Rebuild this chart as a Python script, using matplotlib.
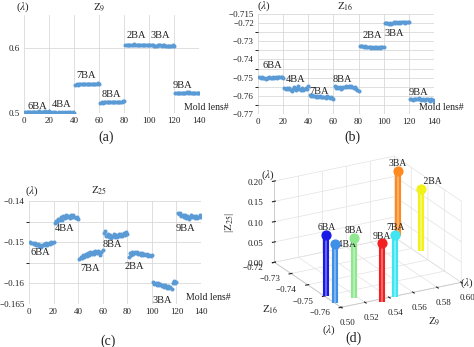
import matplotlib
matplotlib.use("Agg")
import matplotlib.pyplot as plt
import numpy as np
from matplotlib.ticker import FixedLocator, FuncFormatter

plt.rcParams["font.family"] = ["Liberation Serif", "DejaVu Serif"]
plt.rcParams["mathtext.fontset"] = "stix"
plt.rcParams["axes.unicode_minus"] = True

W, H = 474, 347

groups = ["6BA", "4BA", "7BA", "8BA", "2BA", "3BA", "9BA"]

# Z9 per mold lens, 20 lenses per group
z9 = {
    "6BA": [0.5015, 0.5020, 0.5012, 0.5018, 0.5010, 0.5016, 0.5022, 0.5014, 0.5019, 0.5011,
            0.5017, 0.5023, 0.5015, 0.5020, 0.5013, 0.5018, 0.5024, 0.5016, 0.5021, 0.5027],
    "4BA": [0.5012, 0.5006, 0.5010, 0.5003, 0.5008, 0.5001, 0.5006, 0.5011, 0.5004, 0.5009,
            0.5002, 0.5007, 0.5012, 0.5005, 0.5010, 0.5003, 0.5008, 0.5004, 0.5009, 0.5002],
    "7BA": [0.5432, 0.5438, 0.5435, 0.5441, 0.5437, 0.5443, 0.5440, 0.5446, 0.5442, 0.5448,
            0.5444, 0.5450, 0.5446, 0.5442, 0.5448, 0.5444, 0.5450, 0.5447, 0.5452, 0.5448],
    "8BA": [0.5158, 0.5162, 0.5160, 0.5165, 0.5161, 0.5167, 0.5163, 0.5169, 0.5165, 0.5170,
            0.5166, 0.5172, 0.5168, 0.5164, 0.5170, 0.5166, 0.5172, 0.5175, 0.5180, 0.5184],
    "2BA": [0.6035, 0.6040, 0.6038, 0.6044, 0.6041, 0.6047, 0.6043, 0.6049, 0.6045, 0.6041,
            0.6046, 0.6042, 0.6044, 0.6039, 0.6043, 0.6038, 0.6041, 0.6036, 0.6040, 0.6035],
    "3BA": [0.6038, 0.6034, 0.6040, 0.6030, 0.6025, 0.6032, 0.6036, 0.6042, 0.6038, 0.6033,
            0.6039, 0.6035, 0.6030, 0.6026, 0.6031, 0.6027, 0.6033, 0.6029, 0.6034, 0.6030],
    "9BA": [0.5305, 0.5309, 0.5306, 0.5311, 0.5308, 0.5312, 0.5309, 0.5313, 0.5310, 0.5314,
            0.5311, 0.5315, 0.5312, 0.5309, 0.5313, 0.5308, 0.5311, 0.5306, 0.5304, 0.5300],
}

# Z16 per mold lens
z16 = {
    "6BA": [-0.7498, -0.7502, -0.7499, -0.7504, -0.7500, -0.7505, -0.7501, -0.7503, -0.7499, -0.7504,
            -0.7500, -0.7497, -0.7501, -0.7498, -0.7502, -0.7496, -0.7499, -0.7495, -0.7498, -0.7502],
    "4BA": [-0.7558, -0.7562, -0.7556, -0.7565, -0.7559, -0.7568, -0.7575, -0.7560, -0.7552, -0.7566,
            -0.7558, -0.7548, -0.7563, -0.7570, -0.7557, -0.7566, -0.7561, -0.7555, -0.7562, -0.7547],
    "7BA": [-0.7596, -0.7600, -0.7598, -0.7603, -0.7599, -0.7605, -0.7601, -0.7606, -0.7602, -0.7608,
            -0.7604, -0.7609, -0.7605, -0.7610, -0.7603, -0.7607, -0.7612, -0.7605, -0.7610, -0.7615],
    "8BA": [-0.7548, -0.7556, -0.7552, -0.7558, -0.7553, -0.7560, -0.7555, -0.7550, -0.7554, -0.7548,
            -0.7552, -0.7546, -0.7551, -0.7545, -0.7550, -0.7555, -0.7549, -0.7560, -0.7567, -0.7572],
    "2BA": [-0.7325, -0.7328, -0.7326, -0.7330, -0.7327, -0.7331, -0.7329, -0.7334, -0.7330, -0.7336,
            -0.7333, -0.7338, -0.7334, -0.7332, -0.7336, -0.7333, -0.7337, -0.7334, -0.7331, -0.7329],
    "3BA": [-0.7198, -0.7201, -0.7197, -0.7203, -0.7199, -0.7205, -0.7200, -0.7196, -0.7199, -0.7195,
            -0.7198, -0.7194, -0.7197, -0.7193, -0.7196, -0.7194, -0.7197, -0.7193, -0.7196, -0.7194],
    "9BA": [-0.7620, -0.7616, -0.7622, -0.7618, -0.7615, -0.7620, -0.7617, -0.7613, -0.7618, -0.7622,
            -0.7617, -0.7621, -0.7625, -0.7619, -0.7616, -0.7622, -0.7626, -0.7620, -0.7624, -0.7628],
}

# Z25 per mold lens
z25 = {
    "6BA": [-0.1500, -0.1503, -0.1501, -0.1505, -0.1502, -0.1507, -0.1504, -0.1509, -0.1506, -0.1511,
            -0.1507, -0.1504, -0.1508, -0.1503, -0.1506, -0.1501, -0.1504, -0.1499, -0.1502, -0.1500],
    "4BA": [-0.1454, -0.1448, -0.1451, -0.1443, -0.1447, -0.1440, -0.1445, -0.1437, -0.1442, -0.1434,
            -0.1440, -0.1436, -0.1441, -0.1435, -0.1439, -0.1433, -0.1438, -0.1442, -0.1439, -0.1444],
    "7BA": [-0.1540, -0.1536, -0.1538, -0.1532, -0.1535, -0.1529, -0.1533, -0.1527, -0.1531, -0.1525,
            -0.1529, -0.1524, -0.1528, -0.1522, -0.1526, -0.1521, -0.1525, -0.1530, -0.1524, -0.1520],
    "8BA": [-0.1478, -0.1472, -0.1484, -0.1479, -0.1488, -0.1482, -0.1490, -0.1485, -0.1480, -0.1488,
            -0.1483, -0.1487, -0.1481, -0.1486, -0.1480, -0.1484, -0.1478, -0.1482, -0.1476, -0.1479],
    "2BA": [-0.1535, -0.1526, -0.1530, -0.1524, -0.1528, -0.1523, -0.1527, -0.1525, -0.1529, -0.1526,
            -0.1530, -0.1527, -0.1531, -0.1528, -0.1532, -0.1529, -0.1533, -0.1530, -0.1534, -0.1531],
    "3BA": [-0.1597, -0.1601, -0.1599, -0.1603, -0.1600, -0.1604, -0.1602, -0.1606, -0.1603, -0.1608,
            -0.1605, -0.1610, -0.1607, -0.1612, -0.1609, -0.1614, -0.1598, -0.1595, -0.1599, -0.1596],
    "9BA": [-0.1428, -0.1432, -0.1430, -0.1436, -0.1433, -0.1439, -0.1435, -0.1441, -0.1437, -0.1443,
            -0.1439, -0.1435, -0.1440, -0.1436, -0.1441, -0.1437, -0.1442, -0.1438, -0.1435, -0.1439],
}

# label anchor (mold lens #, value) for each group label
lab_a = {"6BA": (11, 0.5097), "4BA": (30, 0.5133), "7BA": (50, 0.5567), "8BA": (70, 0.529),
         "2BA": (89.6, 0.618), "3BA": (109, 0.618), "9BA": (127, 0.542)}
lab_b = {"6BA": (11, -0.7436), "4BA": (29.7, -0.7508), "7BA": (48.8, -0.7574), "8BA": (67.4, -0.7513),
         "2BA": (90.7, -0.7271), "3BA": (108.5, -0.7256), "9BA": (127.8, -0.7583)}
lab_c = {"6BA": (9, -0.1526), "4BA": (29.3, -0.1467), "7BA": (49.6, -0.1563), "8BA": (68, -0.1506),
         "2BA": (85.7, -0.1559), "3BA": (108.8, -0.1641), "9BA": (127.7, -0.1466)}

stem_colors = {"6BA": "#1a1ae6", "4BA": "#3d8fe8", "7BA": "#3fe6f2", "8BA": "#8fe88f",
               "2BA": "#f2f21a", "3BA": "#ff8a1f", "9BA": "#f22020"}
# where each 3D label sits relative to its marker: (ha, va)
lab_d = {"6BA": ("center", "bottom"), "4BA": ("left", "center"), "7BA": ("center", "bottom"),
         "8BA": ("center", "bottom"), "2BA": ("left", "bottom"), "3BA": ("center", "bottom"),
         "9BA": ("center", "bottom")}

BLUE = "#5b9bd5"
GRID = "#d9d9d9"
TXT = "#222222"


def px_axes(left, top, right, bottom, **kw):
    return fig.add_axes([left / W, 1 - bottom / H, (right - left) / W, (bottom - top) / H], **kw)


def ftext(x, y, s, **kw):
    kw.setdefault("ha", "center")
    kw.setdefault("va", "center")
    kw.setdefault("color", TXT)
    fig.text(x / W, 1 - y / H, s, **kw)


def scatter_panel(ax, data, labels, ylim, major, minor, fmt):
    x0 = 1
    for g in groups:
        vals = data[g]
        xs = np.arange(x0, x0 + len(vals))
        ax.plot(xs, vals, "o", color=BLUE, ms=2.9, mec="none")
        x0 += len(vals)
    for g in groups:
        lx, ly = labels[g]
        ax.text(lx, ly, g, ha="center", va="center", fontsize=7.5, color=TXT)
    ax.set_xlim(0, 140)
    ax.set_ylim(*ylim)
    ax.set_xticks(range(0, 141, 20))
    ax.yaxis.set_major_locator(FixedLocator(major))
    ax.yaxis.set_minor_locator(FixedLocator(minor))
    ax.yaxis.set_major_formatter(FuncFormatter(lambda v, p: fmt(v).replace("-", "\u2212")))
    ax.grid(True, which="both", color=GRID, lw=0.6)
    ax.set_axisbelow(True)
    for s in ax.spines.values():
        s.set_visible(False)
    ax.tick_params(length=0, labelsize=6.5, colors=TXT, pad=3)
    ax.text(146, ylim[0] + (ylim[1] - ylim[0]) * 0.06, "Mold lens#", ha="center", va="center",
            fontsize=7, color=TXT)


fig = plt.figure(figsize=(W / 100, H / 100), dpi=100)

# (a) Z9
ax_a = px_axes(24, 15, 199, 113)
scatter_panel(ax_a, z9, lab_a, (0.5, 0.65), [0.5, 0.6], [0.5, 0.6],
              lambda v: f"{v:.1f}")
ftext(99, 7, "Z$_9$", fontsize=8)
ftext(23, 7, "($\\lambda$)", fontsize=8)
ftext(106, 137, "(a)", fontsize=10)

# (b) Z16
ax_b = px_axes(258, 14, 434, 114)
scatter_panel(ax_b, z16, lab_b, (-0.77, -0.715),
              [-0.77, -0.76, -0.75, -0.74, -0.73, -0.72, -0.715],
              [-0.765, -0.755, -0.745, -0.735, -0.725],
              lambda v: f"{v:.3f}".rstrip("0"))
ftext(345, 7, "Z$_{16}$", fontsize=8)
ftext(264, 6, "($\\lambda$)", fontsize=8)
ftext(352, 137, "(b)", fontsize=10)

# (c) Z25
ax_c = px_axes(29, 201, 201, 304)
scatter_panel(ax_c, z25, lab_c, (-0.165, -0.14),
              [-0.165, -0.16, -0.15, -0.14], [-0.155, -0.145],
              lambda v: f"{v:.3f}".rstrip("0"))
ftext(99, 191, "Z$_{25}$", fontsize=8)
ftext(32, 191, "($\\lambda$)", fontsize=8)
ftext(108, 341, "(c)", fontsize=10)

# (d) 3D stems of group means
with plt.rc_context({"grid.color": "#e2e2e2", "grid.linewidth": 0.5}):
    ax3 = px_axes(239, 131, 491, 338, projection="3d", proj_type="ortho")
ax3.view_init(elev=22, azim=-119)
ax3.set_box_aspect((4, 4, 2.55), zoom=1.0)
for g in groups:
    gx = float(np.mean(z9[g]))
    gy = float(np.mean(z16[g]))
    gz = abs(float(np.mean(z25[g])))
    c = stem_colors[g]
    ax3.plot([gx, gx], [gy, gy], [0, gz], color=c, lw=4.4, solid_capstyle="butt")
    ax3.plot([gx, gx], [gy, gy], [0, gz], color="white", lw=1.4, alpha=0.35,
             solid_capstyle="butt")
    ax3.scatter([gx], [gy], [gz], color=c, s=40, depthshade=False)
    ha, va = lab_d[g]
    dz = 0.007 if va == "bottom" else 0.0
    ax3.text(gx, gy, gz + dz, (" " if ha == "left" else "") + g, fontsize=7, color=TXT,
             ha=ha, va=va)
ax3.set_xlim(0.50, 0.60)
ax3.set_ylim(-0.76, -0.72)
ax3.set_zlim(0, 0.20)
ax3.set_xticks([0.50, 0.52, 0.54, 0.56, 0.58, 0.60])
ax3.set_yticks([-0.76, -0.75, -0.74, -0.73, -0.72])
ax3.set_zticks([0, 0.05, 0.10, 0.15, 0.20])
ax3.xaxis.set_major_formatter(FuncFormatter(lambda v, p: f"{v:.2f}"))
ax3.yaxis.set_major_formatter(FuncFormatter(lambda v, p: f"{v:.2f}".replace("-", "\u2212")))
ax3.zaxis.set_major_formatter(FuncFormatter(lambda v, p: f"{v:.2f}"))
for axis in (ax3.xaxis, ax3.yaxis, ax3.zaxis):
    axis.set_pane_color((1, 1, 1, 0))
    axis.line.set_color("#c8c8c8")
    axis.line.set_linewidth(0.6)
ax3.tick_params(labelsize=6.5, colors=TXT, length=0, pad=-1)
ax3.zaxis.set_tick_params(pad=0)
plt.setp(ax3.get_yticklabels(), ha="right", va="bottom")
ftext(230, 223, "|Z$_{25}$|", fontsize=8, rotation=90)
ftext(270, 310, "Z$_{16}$", fontsize=8)
ftext(434, 321, "Z$_9$", fontsize=8)
ftext(268, 175, "($\\lambda$)", fontsize=8)
ftext(329, 330, "($\\lambda$)", fontsize=8)
ftext(467, 283, "($\\lambda$)", fontsize=8)
ftext(354, 338, "(d)", fontsize=10)

fig.savefig("out.png", dpi=100)
